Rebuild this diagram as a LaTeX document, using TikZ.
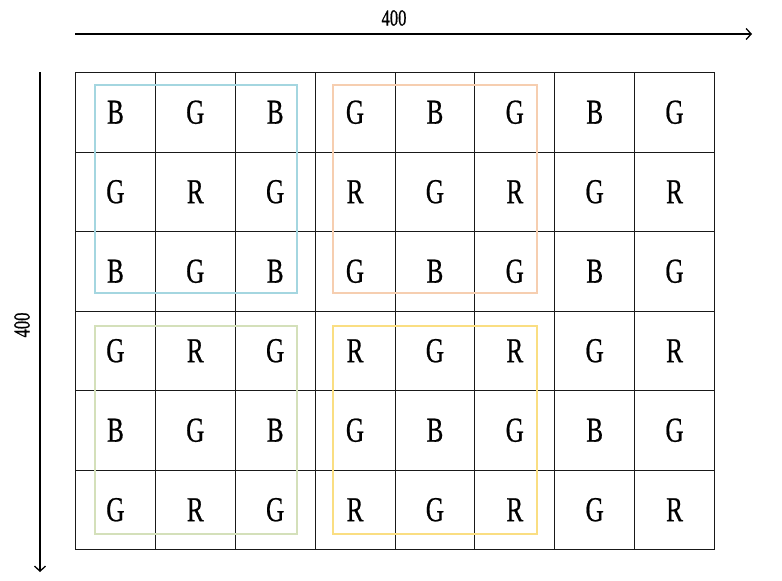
\documentclass[tikz,border=0pt]{standalone}
\usepackage{fontspec}
\setmainfont{Liberation Serif}[FakeStretch=0.72,FakeBold=0.6]
\usetikzlibrary{arrows.meta}
\begin{document}
\begin{tikzpicture}[x=1pt,y=-1pt,
  cell/.style={draw=black!90,line width=1pt,minimum width=79.875pt,minimum height=79.5pt,inner sep=0pt,anchor=north west,font=\fontsize{35}{35}\selectfont},
  win/.style={line width=1.2pt},
  dim/.style={line width=1.3pt,-{Straight Barb[length=5pt,width=11pt]}},
  dimlabel/.style={font=\fontsize{23}{23}\selectfont,inner sep=0pt}]
\useasboundingbox (0,0) rectangle (782,581);
\definecolor{cblue}{RGB}{164,214,224}
\definecolor{corange}{RGB}{246,206,176}
\definecolor{cgreen}{RGB}{212,224,186}
\definecolor{cyellow}{RGB}{250,222,130}
\foreach \r in {0,...,5}{
  \foreach \c in {0,...,7}{
    \pgfmathtruncatemacro{\re}{mod(\r,2)}
    \pgfmathtruncatemacro{\ce}{mod(\c,2)}
    \ifnum\re=0
      \ifnum\ce=0 \def\L{B}\else\def\L{G}\fi
    \else
      \ifnum\ce=0 \def\L{G}\else\def\L{R}\fi
    \fi
    \node[cell] (c-\r-\c) at ({75+\c*79.875},{72+\r*79.5}) {\L};
  }
}
\draw[win,cblue] (95,85) rectangle (297,293);
\draw[win,corange] (333,85) rectangle (537,293);
\draw[win,cgreen] (95,326) rectangle (297,534);
\draw[win,cyellow] (333,326) rectangle (537,534);
\coordinate (hs) at (75,34);
\coordinate (he) at (752,34);
\coordinate (vs) at (40,72);
\coordinate (ve) at (40,572);
\draw[dim] (hs) -- (he);
\draw[dim] (vs) -- (ve);
\node[dimlabel] (hl) at (394,18) {400};
\node[dimlabel,rotate=90] (vl) at (22,325) {400};
\end{tikzpicture}
\end{document}
